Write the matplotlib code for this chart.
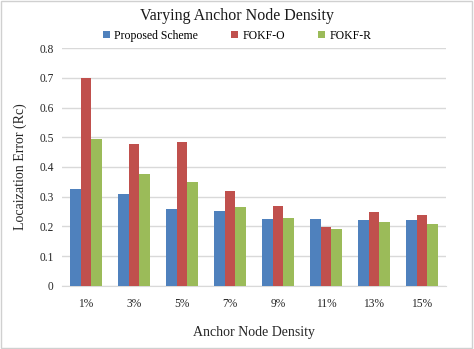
import matplotlib
matplotlib.use("Agg")
import matplotlib.pyplot as plt
import numpy as np
from matplotlib.patches import Rectangle

categories = ["1%", "3%", "5%", "7%", "9%", "11%", "13%", "15%"]
proposed = [0.326, 0.309, 0.257, 0.251, 0.224, 0.224, 0.222, 0.220]
fokf_o = [0.700, 0.478, 0.485, 0.320, 0.268, 0.199, 0.249, 0.239]
fokf_r = [0.493, 0.375, 0.351, 0.266, 0.227, 0.192, 0.215, 0.209]
series_names = ["Proposed Scheme", "FOKF-O", "FOKF-R"]
colors = ["#4F81BD", "#C0504D", "#9BBB59"]

plt.rcParams['font.family'] = ['Liberation Serif', 'DejaVu Serif']

fig = plt.figure(figsize=(4.74, 3.49), dpi=100)
ax = fig.add_axes([0.131, 0.181, 0.81, 0.681])

x = np.arange(len(categories))
w = 0.22
for i, (vals, name, c) in enumerate(zip([proposed, fokf_o, fokf_r], series_names, colors)):
    ax.bar(x + (i - 1) * w, vals, w, color=c, label=name, zorder=3)

ax.set_ylim(0, 0.8)
ax.set_xlim(-0.5, len(categories) - 0.5)
ax.set_yticks(np.arange(0, 0.81, 0.1))
ax.set_yticklabels(["0"] + [f"{v:.1f}" for v in np.arange(0.1, 0.81, 0.1)])
ax.set_xticks(x)
ax.set_xticklabels(categories)
ax.grid(axis='y', color='#d9d9d9', linewidth=1, zorder=0)
for s in ["top", "right", "left"]:
    ax.spines[s].set_visible(False)
ax.spines["bottom"].set_color('#d9d9d9')
ax.tick_params(axis='both', length=0, labelsize=8.3, colors='#262626', pad=6)
ax.tick_params(axis='x', pad=9)

ax.set_xlabel("Anchor Node Density", fontsize=10, labelpad=11, color='#262626')
ax.set_ylabel("Locaization Error (Rc)", fontsize=10, labelpad=9, color='#262626')
fig.text(0.5, 0.955, "Varying Anchor Node Density", ha='center', va='center', fontsize=11.5, color='#1a1a1a')

leg = fig.legend(loc='center', bbox_to_anchor=(0.5, 0.898), ncol=3, frameon=False,
                 fontsize=8.5, handlelength=0.6, handleheight=0.6, handletextpad=0.35,
                 columnspacing=2.8)

fig.patches.append(Rectangle((0.002, 0.003), 0.994, 0.993, transform=fig.transFigure,
                             fill=False, edgecolor='#d0d0d0', linewidth=1))

fig.savefig("out.png", dpi=100)
